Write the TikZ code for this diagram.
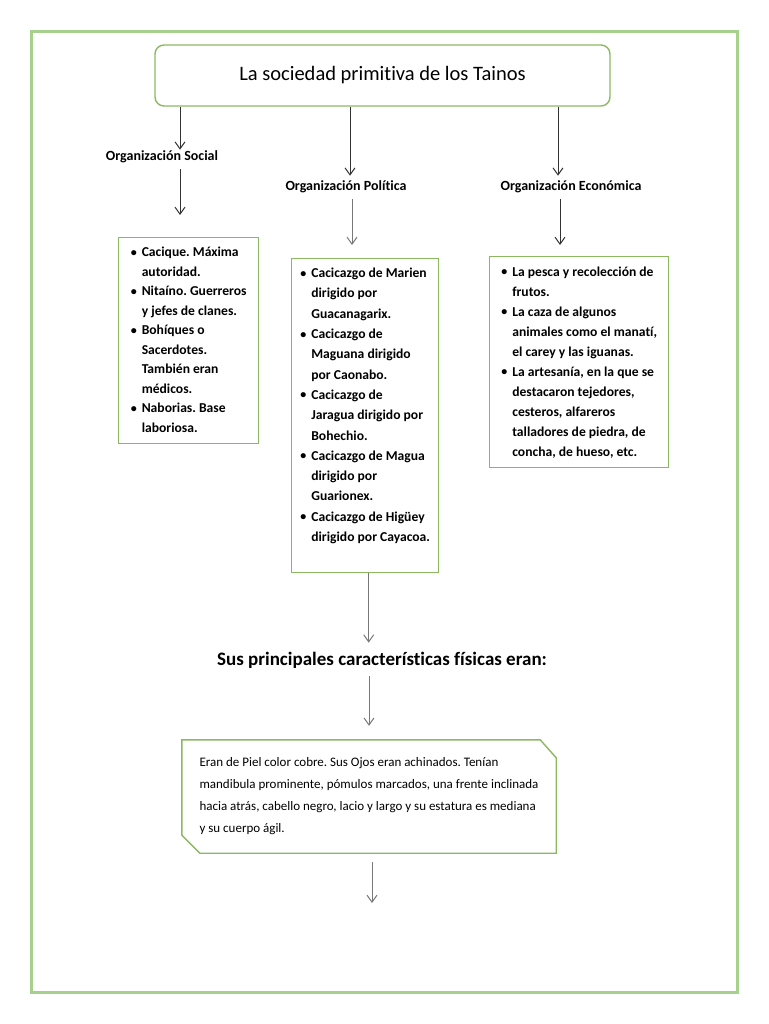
\documentclass[tikz,border=0pt]{standalone}
\usepackage{fontspec}
\setmainfont[Ligatures=NoCommon]{Carlito}
\usetikzlibrary{arrows.meta}
\definecolor{verdeborde}{RGB}{140,184,98}
\definecolor{verdemarco}{RGB}{168,208,141}
\definecolor{grisoscuro}{RGB}{50,50,50}
\definecolor{grisclaro}{RGB}{120,120,120}
\newcommand{\vineta}{\raisebox{0.5pt}{\fontsize{12}{12}\selectfont\textbullet}}
\frenchspacing
\tikzset{
  flecha/.style={draw=grisoscuro, line width=1pt, -{Straight Barb[length=7pt,width=10pt]}},
  flechagris/.style={flecha, draw=grisclaro},
  caja/.style={draw=verdeborde, line width=1.4pt, anchor=north west, font=\fontsize{13.6}{19.5}\selectfont\bfseries},
  etiqueta/.style={font=\fontsize{14}{16}\selectfont\bfseries},
}
\begin{document}
\begin{tikzpicture}[x=1pt,y=1pt]
\tikzstyle{every node}+=[inner sep=0pt]
\useasboundingbox (0,0) rectangle (768,-1024);
\draw [verdemarco, line width=3pt] (31,-32) rectangle (737,-992);
% titulo y ramas
\node [draw=verdeborde, line width=1.4pt, rounded corners=9pt, minimum width=455pt, minimum height=61pt,
  font=\fontsize{20.5}{24}\selectfont] (title) at (382.5,-75.5) {La sociedad primitiva de los Tainos};
\node [etiqueta] (social) at (162,-157) {Organización Social};
\node [etiqueta] (politica) at (346,-187) {Organización Política};
\node [etiqueta] (economica) at (571,-187) {Organización Económica};
% cajas
\node [caja, minimum width=140pt, minimum height=206pt] (boxsocial) at (118,-237) {%
\begin{tabular}{@{}l@{\hspace{5pt}}l@{}}
\vineta & Cacique. Máxima\\
 & autoridad.\\
\vineta & Nitaíno. Guerreros\\
 & y jefes de clanes.\\
\vineta & Bohíques o\\
 & Sacerdotes.\\
 & También eran\\
 & médicos.\\
\vineta & Naborias. Base\\
 & laboriosa.
\end{tabular}};
\node [caja, minimum width=147pt, minimum height=314pt, font=\fontsize{13.6}{20.3}\selectfont\bfseries] (boxpolitica) at (291,-258) {%
\begin{tabular}{@{}l@{\hspace{5pt}}l@{}}
\vineta & Cacicazgo de Marien\\
 & dirigido por\\
 & Guacanagarix.\\
\vineta & Cacicazgo de\\
 & Maguana dirigido\\
 & por Caonabo.\\
\vineta & Cacicazgo de\\
 & Jaragua dirigido por\\
 & Bohechio.\\
\vineta & Cacicazgo de Magua\\
 & dirigido por\\
 & Guarionex.\\
\vineta & Cacicazgo de Higüey\\
 & dirigido por Cayacoa.\\
 & 
\end{tabular}};
\node [caja, minimum width=179pt, minimum height=211pt, font=\fontsize{13.6}{20}\selectfont\bfseries] (boxeconomica) at (489,-256) {%
\begin{tabular}{@{}l@{\hspace{5pt}}l@{}}
\vineta & La pesca y recolección de\\
 & frutos.\\
\vineta & La caza de algunos\\
 & animales como el manatí,\\
 & el carey y las iguanas.\\
\vineta & La artesanía, en la que se\\
 & destacaron tejedores,\\
 & cesteros, alfareros\\
 & talladores de piedra, de\\
 & concha, de hueso, etc.
\end{tabular}};
\node [font=\fontsize{19}{22}\selectfont\bfseries] (fisicas) at (382,-660) {Sus principales características físicas eran:};
\node [minimum width=374pt, minimum height=113pt, align=left, font=\fontsize{13}{22}\selectfont] (descripcion) at (369,-796.5) {%
Eran de Piel color cobre. Sus Ojos eran achinados. Tenían\\
mandibula prominente, pómulos marcados, una frente inclinada\\
hacia atrás, cabello negro, lacio y largo y su estatura es mediana\\
y su cuerpo ágil.};
\draw [verdeborde, line width=1.4pt] (descripcion.north west) -- ([xshift=-16pt]descripcion.north east)
  -- ([yshift=-18pt]descripcion.north east) -- (descripcion.south east)
  -- ([xshift=18pt]descripcion.south west) -- ([yshift=18pt]descripcion.south west) -- cycle;
\coordinate (fin) at (372,-903);
% flechas
\draw [flecha] ([xshift=18pt]social.north |- title.south) -- ([xshift=18pt,yshift=1pt]social.north);
\draw [flecha, shorten <=6pt, shorten >=22pt] ([xshift=18pt]social.south) -- ([xshift=18pt]social.south |- boxsocial.north);
\draw [flecha] ([xshift=4pt]politica.north |- title.south) -- ([xshift=4pt,yshift=5pt]politica.north);
\draw [flechagris, shorten <=6pt, shorten >=13pt] ([xshift=6pt]politica.south) -- ([xshift=6pt]politica.south |- boxpolitica.north);
\draw [flecha] ([xshift=-13pt]economica.north |- title.south) -- ([xshift=-13pt,yshift=5pt]economica.north);
\draw [flecha, shorten <=6pt, shorten >=11pt] ([xshift=-11pt]economica.south) -- ([xshift=-11pt]economica.south |- boxeconomica.north);
\draw [flechagris, shorten >=9pt] ([xshift=3.5pt]boxpolitica.south) -- ([xshift=3.5pt]boxpolitica.south |- fisicas.north);
\draw [flechagris, shorten <=8pt, shorten >=14pt] (fisicas.south -| descripcion.north) -- (descripcion.north);
\draw [flechagris, shorten <=9pt] ([xshift=3pt]descripcion.south) -- (fin);
\end{tikzpicture}
\end{document}
